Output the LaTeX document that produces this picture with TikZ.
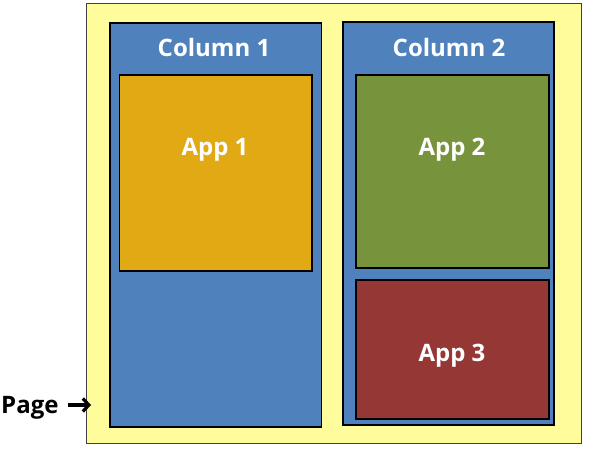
\documentclass[tikz,border=0pt]{standalone}
\usepackage{fontspec}
\setmainfont{Open Sans}
\usetikzlibrary{arrows.meta}
\definecolor{pageyellow}{HTML}{FFFD9B}
\definecolor{colblue}{HTML}{4F81BD}
\definecolor{appgold}{HTML}{E1A914}
\definecolor{appgreen}{HTML}{77933C}
\definecolor{appred}{HTML}{953735}
\tikzset{
  box/.style={draw=black, line width=1.3pt, rectangle, inner sep=0pt},
  lbl/.style={text=white, font=\fontsize{24}{26}\selectfont\bfseries, inner sep=0pt},
}
\begin{document}
\begin{tikzpicture}[x=1pt,y=-1pt]
\useasboundingbox (0,0) rectangle (594,453);
\node[rectangle, draw={black!75}, line width=1pt, fill=pageyellow, minimum width=495pt, minimum height=440pt, inner sep=0pt] (page) at (334,223) {};
\node[box, fill=colblue, minimum width=211.5pt, minimum height=404pt] (col1) at (215.75,225) {};
\node[box, fill=colblue, minimum width=211pt, minimum height=403pt] (col2) at (448.5,223.5) {};
\node[box, fill=appgold, minimum width=192.5pt, minimum height=196pt] (app1) at (215.75,173) {};
\node[box, fill=appgreen, minimum width=193pt, minimum height=193pt] (app2) at (452.5,171.5) {};
\node[box, fill=appred, minimum width=193pt, minimum height=139pt] (app3) at (452.5,349.5) {};
\node[lbl] (c1l) at (214,47) {Column 1};
\node[lbl] (c2l) at (449,47) {Column 2};
\node[lbl] (a1l) at (215,150) {App 1};
\node[lbl] (a2l) at (452,150) {App 2};
\node[lbl] (a3l) at (452,356) {App 3};
\node[font=\fontsize{24}{26}\selectfont\bfseries, inner sep=0pt, anchor=west] (plbl) at (1,408) {Page};
\coordinate (ptip) at ([xshift=5pt]page.west |- 0,405);
\draw[line width=3.2pt, -{Straight Barb[length=6pt,width=13pt,line width=3.2pt]}] (plbl.east |- ptip) ++(9pt,0) -- (ptip);
\end{tikzpicture}
\end{document}
